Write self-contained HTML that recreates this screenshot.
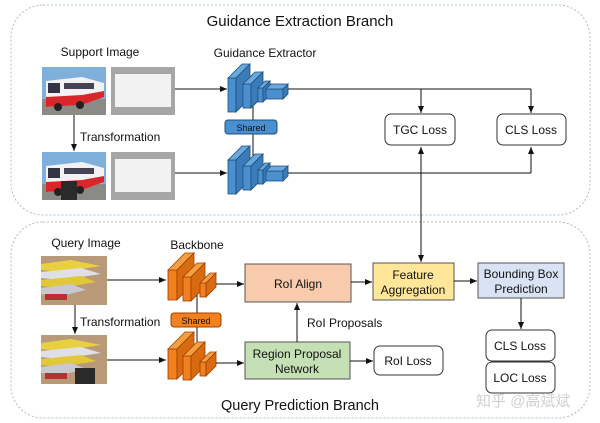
<!DOCTYPE html>
<html><head><meta charset="utf-8"><style>body{margin:0;background:#fff}svg{display:block}text{font-family:"Liberation Sans",Arial,sans-serif;fill:#111}</style></head><body>
<svg width="600" height="423" viewBox="0 0 600 423" xmlns="http://www.w3.org/2000/svg">
<defs>
<marker id="a" markerWidth="8" markerHeight="8" refX="7" refY="4" orient="auto" markerUnits="userSpaceOnUse"><path d="M0,1 L7,4 L0,7z" fill="#111"/></marker>
<marker id="s" markerWidth="8" markerHeight="8" refX="1" refY="4" orient="auto" markerUnits="userSpaceOnUse"><path d="M8,1 L1,4 L8,7z" fill="#111"/></marker>
<g id="bus">
<rect width="64" height="48" fill="#7fb0dc"/>
<rect y="32" width="64" height="16" fill="#8a8a86"/>
<path d="M4,14 L40,10 L62,16 L62,30 L40,38 L4,40z" fill="#f2f2f2"/>
<path d="M4,30 L40,28 L62,24 L62,30 L40,38 L4,40z" fill="#d8262a"/>
<rect x="6" y="16" width="12" height="10" fill="#334"/>
<rect x="22" y="16" width="30" height="6" fill="#445"/>
<circle cx="16" cy="40" r="4" fill="#222"/><circle cx="38" cy="38" r="4" fill="#222"/>
</g>
<g id="grey"><rect width="64" height="48" fill="#a6a6a6"/><rect x="4" y="7" width="56" height="33" fill="#f2f2f2"/></g>
<g id="qimg">
<rect width="66" height="49" fill="#b89a78"/>
<path d="M0,8 L30,4 L60,10 L20,16 L0,14z" fill="#e8d040"/>
<path d="M0,16 L40,12 L60,18 L20,24 L0,22z" fill="#dfe0e6"/>
<path d="M0,24 L40,20 L55,26 L20,32 L0,30z" fill="#e0c838"/>
<path d="M0,32 L30,28 L45,34 L20,40 L0,38z" fill="#c8c8d0"/>
<rect x="4" y="38" width="22" height="6" fill="#b83030"/>
</g>
<g id="blue" stroke="#1f4e79" stroke-width="0.8" fill="#4a90d0">
<rect x="228" y="78" width="8" height="34"/><path d="M228,78 L242,64 L250,64 L236,78z" fill="#6aa8e0"/><path d="M236,78 L250,64 L250,98 L236,112z" fill="#3a7cba"/>
<rect x="243" y="84" width="8" height="24"/><path d="M243,84 L255,72 L263,72 L251,84z" fill="#6aa8e0"/><path d="M251,84 L263,72 L263,96 L251,108z" fill="#3a7cba"/>
<rect x="258" y="88" width="5" height="14"/><path d="M258,88 L265,81 L270,81 L263,88z" fill="#6aa8e0"/><path d="M263,88 L270,81 L270,95 L263,102z" fill="#3a7cba"/>
<rect x="266" y="89" width="17" height="10"/><path d="M266,89 L271,84 L288,84 L283,89z" fill="#6aa8e0"/><path d="M283,89 L288,84 L288,94 L283,99z" fill="#3a7cba"/>
</g>
<g id="orange" stroke="#a04000" stroke-width="0.8" fill="#f08020">
<rect x="168" y="270" width="9" height="30"/><path d="M168,270 L185,253 L194,253 L177,270z" fill="#f5a040"/><path d="M177,270 L194,253 L194,283 L177,300z" fill="#d86a10"/>
<rect x="183" y="277" width="8" height="24"/><path d="M183,277 L197,263 L205,263 L191,277z" fill="#f5a040"/><path d="M191,277 L205,263 L205,287 L191,301z" fill="#d86a10"/>
<rect x="200" y="283" width="6" height="14"/><path d="M200,283 L210,273 L216,273 L206,283z" fill="#f5a040"/><path d="M206,283 L216,273 L216,287 L206,297z" fill="#d86a10"/>
</g>
</defs>
<rect x="11" y="5" width="579" height="210" rx="32" fill="none" stroke="#a8bccc" stroke-dasharray="2,2"/>
<rect x="11" y="222" width="579" height="196" rx="32" fill="none" stroke="#a8bccc" stroke-dasharray="2,2"/>
<text x="300" y="26" font-size="15" text-anchor="middle">Guidance Extraction Branch</text>
<text x="100" y="56" font-size="12" text-anchor="middle">Support Image</text>
<text x="265" y="57" font-size="12" text-anchor="middle">Guidance Extractor</text>
<use href="#bus" x="42" y="67"/><use href="#grey" x="111" y="67"/>
<use href="#bus" x="42" y="152"/><use href="#grey" x="111" y="152"/>
<rect x="61" y="181" width="16" height="19" fill="#2a2a2a"/>
<line x1="74" y1="115" x2="74" y2="151" stroke="#111" marker-end="url(#a)"/>
<text x="80" y="141" font-size="12">Transformation</text>
<line x1="175" y1="89" x2="227" y2="89" stroke="#111" marker-end="url(#a)"/>
<line x1="175" y1="173" x2="227" y2="173" stroke="#111" marker-end="url(#a)"/>
<line x1="253" y1="100" x2="253" y2="170" stroke="#111"/>
<use href="#blue"/><use href="#blue" y="82"/>
<rect x="225" y="120" width="52" height="14" rx="3" fill="#4a90d0" stroke="#1f4e79"/>
<text x="251" y="131" font-size="9" text-anchor="middle">Shared</text>
<line x1="288" y1="89" x2="531" y2="89" stroke="#111"/>
<line x1="421" y1="89" x2="421" y2="113" stroke="#111" marker-end="url(#a)"/>
<line x1="531" y1="89" x2="531" y2="113" stroke="#111" marker-end="url(#a)"/>
<line x1="288" y1="173" x2="531" y2="173" stroke="#111"/>
<line x1="531" y1="173" x2="531" y2="147" stroke="#111" marker-end="url(#a)"/>
<line x1="421" y1="147" x2="421" y2="262" stroke="#111" marker-start="url(#s)" marker-end="url(#a)"/>
<rect x="385" y="114" width="70" height="31" rx="6" fill="#fff" stroke="#333"/>
<text x="420" y="134" font-size="12" text-anchor="middle">TGC Loss</text>
<rect x="497" y="114" width="69" height="31" rx="6" fill="#fff" stroke="#333"/>
<text x="531" y="134" font-size="12" text-anchor="middle">CLS  Loss</text>
<text x="86" y="247" font-size="12" text-anchor="middle">Query Image</text>
<text x="197" y="249" font-size="12" text-anchor="middle">Backbone</text>
<use href="#qimg" x="41" y="256"/><use href="#qimg" x="41" y="335"/>
<rect x="75" y="368" width="20" height="16" fill="#2a2a2a"/>
<line x1="75" y1="305" x2="75" y2="334" stroke="#111" marker-end="url(#a)"/>
<text x="80" y="326" font-size="12">Transformation</text>
<line x1="107" y1="280" x2="166" y2="280" stroke="#111" marker-end="url(#a)"/>
<line x1="107" y1="360" x2="166" y2="360" stroke="#111" marker-end="url(#a)"/>
<line x1="197" y1="285" x2="197" y2="350" stroke="#111"/>
<use href="#orange"/><use href="#orange" y="79"/>
<rect x="171" y="313" width="50" height="14" rx="3" fill="#f08020" stroke="#a04000"/>
<text x="196" y="324" font-size="9" text-anchor="middle">Shared</text>
<line x1="216" y1="284" x2="244" y2="284" stroke="#111" marker-end="url(#a)"/>
<line x1="216" y1="363" x2="244" y2="363" stroke="#111" marker-end="url(#a)"/>
<rect x="245" y="264" width="106" height="38" fill="#f8cbad" stroke="#555"/>
<text x="298" y="288" font-size="12" text-anchor="middle">RoI Align</text>
<rect x="245" y="342" width="105" height="37" fill="#c5e0b4" stroke="#555"/>
<text x="297" y="358" font-size="12" text-anchor="middle">Region Proposal</text>
<text x="297" y="373" font-size="12" text-anchor="middle">Network</text>
<line x1="297" y1="342" x2="297" y2="303" stroke="#111" marker-end="url(#a)"/>
<text x="307" y="327" font-size="12">RoI Proposals</text>
<line x1="350" y1="361" x2="373" y2="361" stroke="#111" marker-end="url(#a)"/>
<rect x="374" y="346" width="69" height="29" rx="6" fill="#fff" stroke="#333"/>
<text x="408" y="365" font-size="12" text-anchor="middle">RoI  Loss</text>
<line x1="351" y1="282" x2="372" y2="282" stroke="#111" marker-end="url(#a)"/>
<rect x="373" y="263" width="81" height="37" fill="#ffe699" stroke="#555"/>
<text x="413" y="279" font-size="12" text-anchor="middle">Feature</text>
<text x="413" y="294" font-size="12" text-anchor="middle">Aggregation</text>
<line x1="454" y1="281" x2="477" y2="281" stroke="#111" marker-end="url(#a)"/>
<rect x="478" y="263" width="86" height="35" fill="#dae3f3" stroke="#555"/>
<text x="521" y="278" font-size="12" text-anchor="middle">Bounding Box</text>
<text x="521" y="293" font-size="12" text-anchor="middle">Prediction</text>
<line x1="521" y1="298" x2="521" y2="329" stroke="#111" marker-end="url(#a)"/>
<rect x="486" y="330" width="69" height="31" rx="6" fill="#fff" stroke="#333"/>
<text x="520" y="350" font-size="12" text-anchor="middle">CLS  Loss</text>
<rect x="486" y="362" width="69" height="31" rx="6" fill="#fff" stroke="#333"/>
<text x="520" y="382" font-size="12" text-anchor="middle">LOC  Loss</text>
<text x="300" y="410" font-size="14.5" text-anchor="middle">Query Prediction Branch</text>
<text x="476" y="406" font-size="15" style="fill:#d0d0d0;font-family:'Liberation Sans','Noto Sans CJK SC',sans-serif">知乎 @高斌斌</text>
</svg>
</body></html>
